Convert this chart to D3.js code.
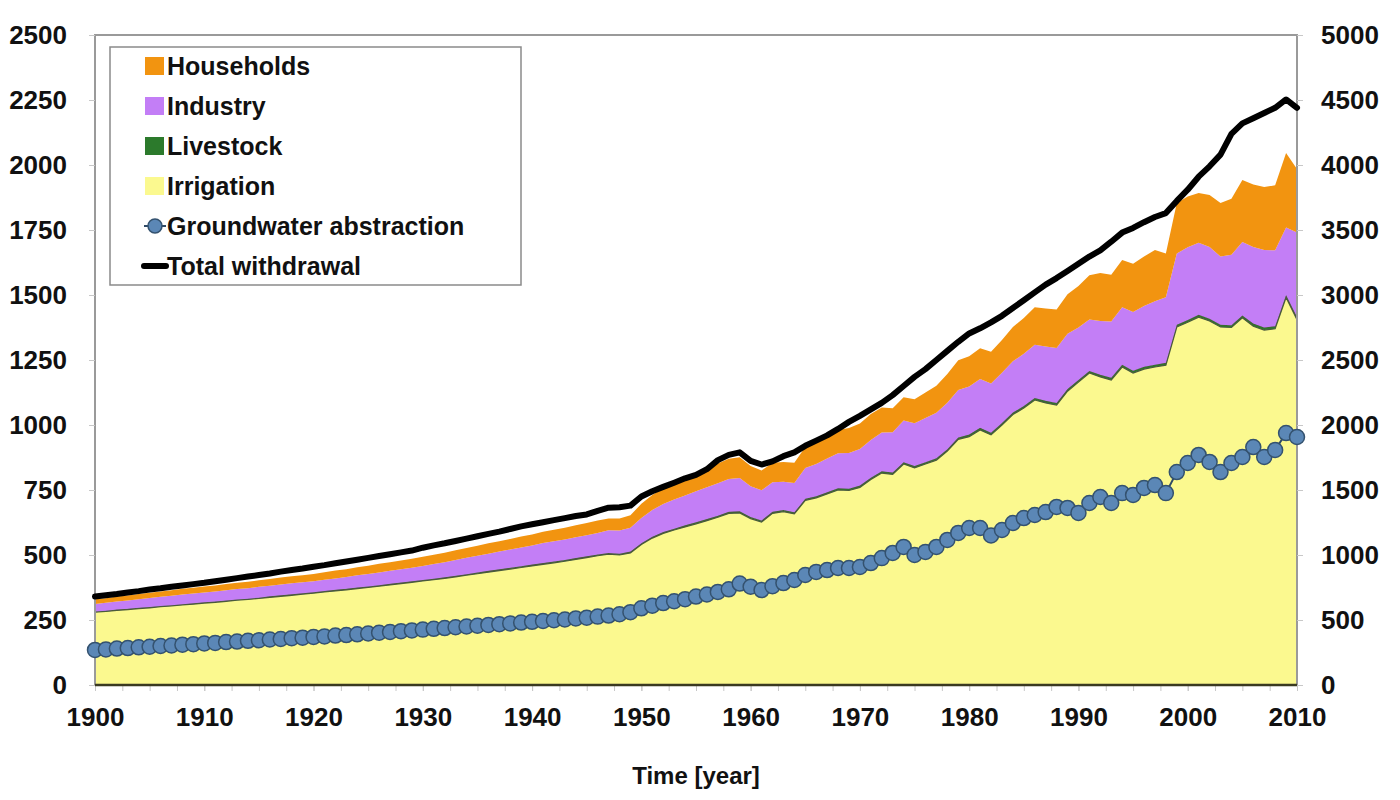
<!DOCTYPE html>
<html lang="en">
	<head>
		<meta charset="UTF-8">
		<title>Water withdrawal 1900-2010</title>
		<script src="https://d3js.org/d3.v7.min.js"></script>
		<style>
			body {
				margin: 0;
				background: white;
			}

			svg text {
				font-family: "Liberation Sans", Arial, sans-serif;
				font-weight: bold;
				fill: #111;
			}

			.axis text {
				font-size: 26px;
			}

			.legend text {
				font-size: 25px;
			}
		</style>
	</head>
	<body>
		<div id="chart"></div>
		<script>
			const years = d3.range(1900, 2011)

			const irrigation = [
				280, 283, 287, 290, 294, 297, 301, 304, 308, 311,
				315, 318, 322, 326, 329, 333, 337, 341, 345, 349,
				353, 358, 362, 366, 371, 375, 380, 385, 390, 395,
				400, 405, 410, 416, 422, 428, 434, 440, 446, 452,
				458, 464, 470, 476, 483, 490, 497, 503, 500, 508,
				540, 565, 583, 596, 608, 620, 632, 645, 660, 662,
				640, 627, 660, 667, 658, 710, 720, 735, 750, 748,
				760, 790, 815, 810, 850, 835, 850, 865, 900, 945,
				955, 981, 962, 1000, 1040, 1065, 1096, 1085, 1077, 1130,
				1165, 1200, 1185, 1173, 1223, 1200, 1215, 1223, 1230, 1377,
				1395, 1415, 1400, 1377, 1375, 1412, 1380, 1365, 1370, 1490, 1405
			]

			const livestock = [
				3, 3, 3, 3, 3, 3, 3, 3, 3, 3,
				3, 3, 3, 3, 3, 3, 4, 4, 4, 4,
				4, 4, 4, 4, 4, 4, 4, 4, 4, 4,
				4, 4, 4, 4, 4, 5, 5, 5, 5, 5,
				5, 5, 5, 5, 5, 5, 5, 5, 5, 5,
				5, 5, 5, 5, 6, 6, 6, 6, 6, 6,
				6, 6, 6, 6, 6, 6, 6, 6, 7, 7,
				7, 7, 7, 7, 7, 7, 7, 7, 7, 7,
				8, 8, 8, 8, 8, 8, 8, 8, 8, 8,
				8, 8, 8, 9, 9, 9, 9, 9, 9, 9,
				9, 9, 9, 9, 9, 9, 10, 10, 10, 10, 10
			]

			const industry = [
				29, 30, 31, 32, 33, 35, 35, 36, 37, 38,
				38, 39, 39, 40, 40, 42, 41, 42, 42, 42,
				42, 43, 44, 45, 47, 48, 49, 50, 51, 52,
				54, 56, 58, 61, 63, 64, 66, 68, 70, 72,
				74, 77, 78, 79, 80, 81, 83, 87, 89, 92,
				97, 103, 108, 112, 115, 119, 123, 125, 126, 128,
				118, 116, 114, 109, 113, 119, 124, 130, 134, 137,
				141, 145, 149, 155, 160, 165, 170, 175, 179, 183,
				185, 188, 190, 193, 197, 201, 205, 209, 211, 213,
				202, 198, 207, 216, 221, 226, 234, 244, 252, 274,
				280, 277, 276, 262, 271, 283, 295, 298, 292, 260, 325
			]

			const households = [
				18, 18, 19, 19, 20, 20, 21, 21, 22, 22,
				23, 23, 24, 24, 25, 25, 26, 26, 27, 27,
				28, 29, 30, 30, 31, 32, 33, 33, 34, 35,
				35, 36, 37, 37, 38, 39, 40, 40, 41, 42,
				42, 43, 44, 45, 46, 47, 48, 45, 46, 48,
				55, 58, 62, 65, 68, 70, 73, 76, 78, 80,
				78, 76, 75, 76, 78, 80, 82, 86, 90, 96,
				98, 100, 96, 92, 90, 92, 98, 104, 110, 114,
				116, 118, 122, 126, 132, 138, 144, 146, 148, 152,
				160, 170, 185, 180, 182, 185, 190, 197, 169, 194,
				195, 191, 200, 206, 215, 238, 240, 242, 250, 286, 245
			]

			const groundwater = [
				135, 137, 140, 142, 145, 147, 150, 152, 155, 157,
				160, 162, 165, 167, 170, 172, 175, 177, 180, 182,
				185, 187, 190, 192, 195, 198, 201, 204, 207, 210,
				213, 216, 219, 222, 225, 228, 231, 234, 237, 240,
				243, 246, 249, 252, 256, 259, 263, 267, 272, 280,
				295, 305, 315, 322, 330, 340, 348, 358, 368, 390,
				378, 365, 380, 392, 404, 423, 435, 442, 450, 450,
				454, 469, 488, 508, 531, 500, 512, 531, 558, 585,
				604, 604, 575, 596, 623, 642, 654, 665, 685, 681,
				662, 700, 723, 700, 738, 731, 758, 769, 738, 819,
				854, 885, 858, 819, 854, 877, 915, 877, 904, 969, 954
			]

			const totalWithdrawal = [
				340, 345, 350, 356, 361, 367, 372, 378, 383, 388,
				393, 399, 405, 411, 417, 423, 429, 436, 442, 448,
				455, 461, 468, 475, 482, 489, 496, 503, 510, 517,
				528, 537, 545, 554, 563, 572, 581, 590, 600, 610,
				618, 626, 634, 642, 650, 656, 670, 682, 684, 690,
				725, 745, 762, 778, 795, 808, 830, 865, 885, 895,
				862, 848, 860, 880, 895, 920, 940, 960, 985, 1012,
				1035, 1060, 1085, 1115, 1150, 1185, 1215, 1250, 1285, 1320,
				1352, 1372, 1395, 1420, 1450, 1480, 1510, 1540, 1565, 1592,
				1620, 1648, 1672, 1705, 1740, 1758, 1780, 1800, 1815, 1862,
				1905, 1955, 1995, 2040, 2120, 2160, 2180, 2200, 2220, 2252, 2220
			]

			const leftTicks = [0, 250, 500, 750, 1000, 1250, 1500, 1750, 2000, 2250, 2500]
			const rightTicks = [0, 500, 1000, 1500, 2000, 2500, 3000, 3500, 4000, 4500, 5000]
			const yearTicks = [1900, 1910, 1920, 1930, 1940, 1950, 1960, 1970, 1980, 1990, 2000, 2010]

			const sectors = ["irrigation", "livestock", "industry", "households"]
			const colors = {
				households: "#f29410",
				industry: "#c37ef6",
				livestock: "#2c7a2c",
				irrigation: "#fbf98f",
				groundwater: "#5b87b6",
				total: "#000000"
			}

			const W = 1400, H = 800
			const plotLeft = 95, plotRight = 1297, plotTop = 35, plotBottom = 685

			const rows = years.map((yr, i) => ({
				year: yr,
				irrigation: irrigation[i],
				livestock: livestock[i],
				industry: industry[i],
				households: households[i]
			}))

			const x = d3.scaleLinear().domain([1900, 2010]).range([plotLeft, plotRight])
			const y = d3.scaleLinear().domain([0, 2500]).range([plotBottom, plotTop])
			const yRight = d3.scaleLinear().domain([0, 5000]).range([plotBottom, plotTop])
			const fmt = d3.format("d")

			const svg = d3.select("#chart").append("svg")
				.attr("width", W)
				.attr("height", H)

			// stacked sectors
			const stacked = d3.stack().keys(sectors)(rows)
			const area = d3.area()
				.x(d => x(d.data.year))
				.y0(d => y(d[0]))
				.y1(d => y(d[1]))

			svg.append("g").selectAll("path")
				.data(stacked)
				.join("path")
				.attr("d", area)
				.attr("fill", d => colors[d.key])
				.attr("stroke", d => d.key === "livestock" ? "#4a5a3c" : "none")
				.attr("stroke-width", 1.2)

			// frame
			svg.append("path")
				.attr("d", `M${plotLeft},${plotBottom}V${plotTop}H${plotRight}V${plotBottom}`)
				.attr("fill", "none")
				.attr("stroke", "#9a9a9a")
				.attr("stroke-width", 2)

			// axes
			const gLeft = svg.append("g")
				.attr("class", "axis")
				.attr("transform", `translate(${plotLeft},0)`)
				.call(d3.axisLeft(y).tickValues(leftTicks).tickFormat(fmt).tickSize(6).tickPadding(22).tickSizeOuter(0))
			const gRight = svg.append("g")
				.attr("class", "axis")
				.attr("transform", `translate(${plotRight},0)`)
				.call(d3.axisRight(yRight).tickValues(rightTicks).tickFormat(fmt).tickSize(6).tickPadding(18).tickSizeOuter(0))
			const gMinor = svg.append("g")
				.attr("transform", `translate(0,${plotBottom})`)
				.call(d3.axisBottom(x).tickValues(d3.range(1900, 2011, 2.5)).tickSize(6).tickFormat("").tickSizeOuter(0))
			const gBottom = svg.append("g")
				.attr("class", "axis")
				.attr("transform", `translate(0,${plotBottom})`)
				.call(d3.axisBottom(x).tickValues(yearTicks).tickFormat(fmt).tickSize(6).tickPadding(17).tickSizeOuter(0))

			for (const g of [gLeft, gRight, gMinor, gBottom]) {
				g.select(".domain").remove()
				g.selectAll(".tick line").attr("stroke", "#c8c8c8")
			}

			svg.append("line")
				.attr("x1", plotLeft).attr("x2", plotRight)
				.attr("y1", plotBottom).attr("y2", plotBottom)
				.attr("stroke", "#3a3a20")
				.attr("stroke-width", 2.5)

			svg.append("text")
				.attr("x", (plotLeft + plotRight) / 2)
				.attr("y", 784)
				.attr("text-anchor", "middle")
				.style("font-size", "24px")
				.text("Time [year]")

			// groundwater abstraction
			const gwLine = d3.line()
				.x((d, i) => x(years[i]))
				.y(d => y(d))
			svg.append("path")
				.attr("d", gwLine(groundwater))
				.attr("fill", "none")
				.attr("stroke", "#2f4a66")
				.attr("stroke-width", 2)
			svg.append("g").selectAll("circle")
				.data(groundwater)
				.join("circle")
				.attr("cx", (d, i) => x(years[i]))
				.attr("cy", d => y(d))
				.attr("r", 7.5)
				.attr("fill", colors.groundwater)
				.attr("stroke", "#34526f")
				.attr("stroke-width", 1.5)

			// total withdrawal
			const totLine = d3.line()
				.x((d, i) => x(years[i]))
				.y(d => y(d))
			svg.append("path")
				.attr("d", totLine(totalWithdrawal))
				.attr("fill", "none")
				.attr("stroke", colors.total)
				.attr("stroke-width", 6)
				.attr("stroke-linejoin", "round")
				.attr("stroke-linecap", "round")

			// legend
			const legendItems = [
				{ name: "Households", kind: "box", color: colors.households },
				{ name: "Industry", kind: "box", color: colors.industry },
				{ name: "Livestock", kind: "box", color: colors.livestock },
				{ name: "Irrigation", kind: "box", color: colors.irrigation },
				{ name: "Groundwater abstraction", kind: "dot", color: colors.groundwater },
				{ name: "Total withdrawal", kind: "line", color: colors.total }
			]

			const legend = svg.append("g").attr("class", "legend")
			legend.append("rect")
				.attr("x", 110).attr("y", 47)
				.attr("width", 411).attr("height", 238)
				.attr("fill", "white")
				.attr("stroke", "#8a8a8a")
				.attr("stroke-width", 1.5)

			const item = legend.selectAll("g.item")
				.data(legendItems)
				.join("g")
				.attr("class", "item")
				.attr("transform", (d, i) => `translate(0,${66 + i * 40})`)

			item.filter(d => d.kind === "box").append("rect")
				.attr("x", 145).attr("y", -9)
				.attr("width", 19).attr("height", 18)
				.attr("fill", d => d.color)
			item.filter(d => d.kind === "dot").append("line")
				.attr("x1", 144).attr("x2", 166)
				.attr("stroke", "#2f4a66").attr("stroke-width", 2)
			item.filter(d => d.kind === "dot").append("circle")
				.attr("cx", 155).attr("r", 7)
				.attr("fill", d => d.color)
				.attr("stroke", "#34526f").attr("stroke-width", 1.5)
			item.filter(d => d.kind === "line").append("line")
				.attr("x1", 144).attr("x2", 166)
				.attr("stroke", d => d.color).attr("stroke-width", 6)
				.attr("stroke-linecap", "round")
			item.append("text")
				.attr("x", 167)
				.attr("dy", "0.36em")
				.text(d => d.name)
		</script>
	</body>
</html>
